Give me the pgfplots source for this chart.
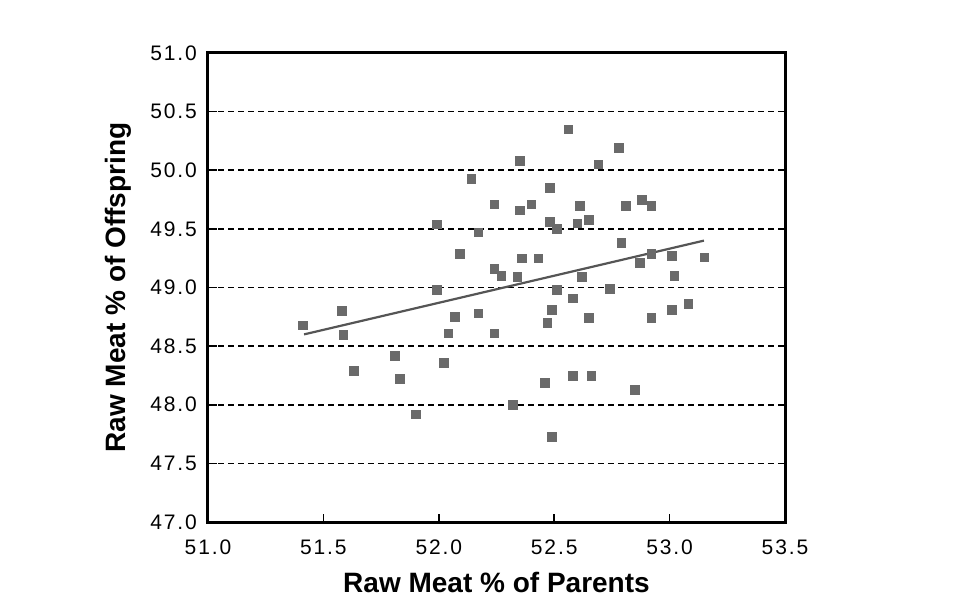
\documentclass[border=0pt]{standalone}
\usepackage{fontspec}
\setmainfont{Liberation Sans}
\newfontfamily\tickfont[LetterSpace=9]{Liberation Sans}
\usepackage{pgfplots}
\pgfplotsset{compat=1.18}
\definecolor{pt}{HTML}{6A6A6A}
\definecolor{fit}{HTML}{555555}

\begin{document}
\begin{tikzpicture}
\begin{axis}[
  scale only axis, width=577pt, height=469pt,
  xmin=51, xmax=53.5, ymin=47, ymax=51,
  xtick={51,51.5,...,53.5}, ytick={47,47.5,...,51},
  /pgf/number format/fixed, /pgf/number format/fixed zerofill,
  /pgf/number format/precision=1,
  /pgf/number format/assume math mode=true,
  tick label style={font=\tickfont\fontsize{21}{25}\selectfont, inner sep=0pt},
  xticklabel style={yshift=-18pt},
  yticklabel style={xshift=-11pt},
  tick pos=left, tick align=inside,
  major tick length=8pt,
  every tick/.style={black, line width=1.5pt},
  axis line style={black, line width=3pt},
  ymajorgrids, grid style={black, line width=1.6pt, dash pattern=on 6pt off 4pt},
  xlabel={Raw Meat \% of Parents},
  ylabel={Raw Meat \% of Offspring},
  label style={font=\bfseries\fontsize{28}{32}\selectfont},
  xlabel style={at={(axis description cs:0.5,-0.128)}, anchor=center},
  ylabel style={at={(axis description cs:-0.156,0.5)}, anchor=center},
  clip=false,
]
\addplot[only marks, mark=square*, mark size=4.3pt, color=pt] coordinates {
(51.41,48.68) (51.58,48.80) (51.585,48.60) (51.63,48.29) (51.81,48.42)
(51.83,48.22) (51.90,47.92) (51.99,49.54) (51.99,48.98) (52.02,48.36)
(52.04,48.61) (52.07,48.75) (52.09,49.29) (52.14,49.93) (52.17,49.47)
(52.17,48.78) (52.24,49.71) (52.24,49.16) (52.24,48.61) (52.27,49.10)
(52.32,48.00) (52.35,50.08) (52.35,49.66) (52.34,49.09) (52.36,49.25)
(52.40,49.71) (52.43,49.25) (52.46,48.19) (52.47,48.70) (52.48,49.85)
(52.48,49.56) (52.49,48.81) (52.49,47.73) (52.51,49.50) (52.51,48.98)
(52.56,50.35) (52.58,48.91) (52.58,48.25) (52.61,49.70) (52.60,49.55)
(52.62,49.09) (52.65,49.58) (52.65,48.74) (52.66,48.25) (52.69,50.05)
(52.74,48.99) (52.78,50.19) (52.79,49.38) (52.81,49.70) (52.85,48.13)
(52.87,49.21) (52.88,49.75) (52.92,49.70) (52.92,48.74) (52.92,49.29)
(53.01,49.27) (53.01,48.81) (53.02,49.10) (53.08,48.86) (53.15,49.26)
};
\addplot[no marks, color=fit, line width=2.2pt] coordinates {(51.416,48.60) (53.149,49.40)};
% tick marks drawn explicitly (inside)
\pgfplotsinvokeforeach{51.5,52,52.5,53}{
  \draw[black, line width=1.5pt] (axis cs:#1,47) -- ++(0pt,7pt);}
\pgfplotsinvokeforeach{47.5,48,48.5,49,49.5,50,50.5}{
  \draw[black, line width=1.5pt] (axis cs:51,#1) -- ++(9pt,0pt);}
\end{axis}
\pgfresetboundingbox
\path[use as bounding box] (-208pt,-85pt) rectangle (752pt,522pt);
\end{tikzpicture}
\end{document}
